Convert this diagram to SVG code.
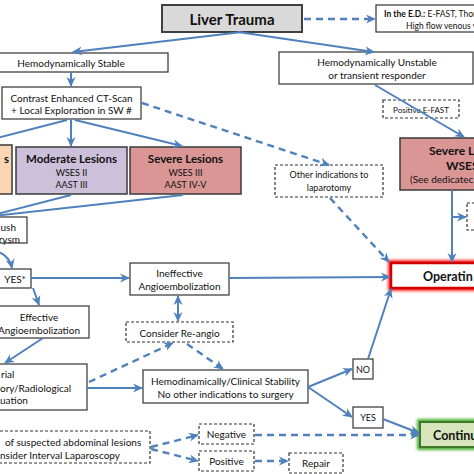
<svg xmlns="http://www.w3.org/2000/svg" width="474" height="474" viewBox="0 0 474 474">
<defs>
<marker id="ah" markerUnits="userSpaceOnUse" markerWidth="10" markerHeight="10" viewBox="0 0 10 10" refX="9" refY="5" orient="auto-start-reverse">
<path d="M0,0.5 L10,5 L0,9.5 L3,5 Z" fill="#4f81bd"/>
</marker>
<filter id="glow" x="-20%" y="-40%" width="140%" height="180%">
<feGaussianBlur stdDeviation="1.6"/>
</filter>
<style>
text{font-family:Lato,"Open Sans","Liberation Sans",sans-serif;fill:#111;dominant-baseline:central}
.m{text-anchor:middle}
.e{text-anchor:end}
.b{font-weight:bold}
.box{fill:#fff;stroke:#333;stroke-width:1.2}
.dbox{fill:#fff;stroke:#333;stroke-width:1.2;stroke-dasharray:3 2}
.les{stroke:#3a3a3a;stroke-width:1.5}
.c{fill:none;stroke:#4f81bd;stroke-width:2;marker-end:url(#ah)}
.d{fill:none;stroke:#4f81bd;stroke-width:2.4;stroke-dasharray:7 5;marker-end:url(#ah)}
.t10{font-size:10px}
.t9{font-size:9px}
.t8{font-size:8.5px}
</style>
</defs>
<rect width="474" height="474" fill="#fff"/>

<g id="liver-trauma">
<rect x="162" y="5" width="140" height="27" fill="#d9d9d9" stroke="#404040" stroke-width="2"/>
<text x="232" y="18.5" class="m b" font-size="15">Liver Trauma</text>
</g>
<g id="ed">
<rect x="376" y="5" width="110" height="27" class="box"/>
<text x="384" y="14" class="t8"><tspan class="b">In the E.D.:</tspan> E-FAST, Thor</text>
<text x="406" y="26" class="t8">High flow venous v</text>
</g>
<g id="stable">
<rect x="-26" y="53" width="194" height="19" class="box"/>
<text x="71" y="62.5" class="m t10">Hemodynamically Stable</text>
</g>
<g id="unstable">
<rect x="279" y="52" width="194" height="32" class="box"/>
<text x="377" y="62" class="m t10">Hemodynamically Unstable</text>
<text x="377" y="75" class="m t10">or transient responder</text>
</g>
<g id="ct">
<rect x="2" y="87" width="139" height="32" class="box"/>
<text x="71.5" y="98" class="m t10">Contrast Enhanced CT-Scan</text>
<text x="71.5" y="110" class="m t10">+ Local Exploration in SW #</text>
</g>
<g id="positive-efast">
<rect x="383" y="100" width="76" height="18" class="dbox"/>
<text x="421" y="109.5" class="m" font-size="8">Positive E-FAST</text>
</g>
<g id="mild">
<rect x="-40" y="145" width="52" height="49" fill="#fcd5b4" class="les"/>
<text x="9" y="158" class="e b" font-size="11.5">s</text>
</g>
<g id="moderate">
<rect x="16" y="147" width="111" height="47" fill="#ccc0da" class="les"/>
<text x="71.5" y="158" class="m b" font-size="11.5">Moderate Lesions</text>
<text x="71.5" y="172" class="m t9">WSES II</text>
<text x="71.5" y="184" class="m t9">AAST III</text>
</g>
<g id="severe">
<rect x="130" y="147" width="111" height="47" fill="#d99694" class="les"/>
<text x="185.5" y="158" class="m b" font-size="11.5">Severe Lesions</text>
<text x="185.5" y="172" class="m t9">WSES III</text>
<text x="185.5" y="184" class="m t9">AAST IV-V</text>
</g>
<g id="severe-unstable">
<rect x="400" y="138" width="80" height="52" fill="#d99694" class="les"/>
<text x="429" y="150" class="b" font-size="12">Severe Le</text>
<text x="446" y="165" class="b" font-size="12">WSES</text>
<text x="410" y="179" class="t10">(See dedicatec</text>
</g>
<g id="other-indications">
<rect x="275" y="165" width="108" height="32" class="dbox"/>
<text x="329" y="174.5" class="m" font-size="9">Other indications to</text>
<text x="329" y="187" class="m" font-size="9">laparotomy</text>
</g>
<g id="dedicated">
<rect x="467" y="203" width="20" height="27" class="dbox"/>
</g>
<g id="blush">
<rect x="-40" y="217" width="67" height="26" class="box"/>
<text x="16" y="226.5" class="e t10">ush</text>
<text x="20" y="239" class="e t10">rysm</text>
</g>
<g id="yes-star">
<rect x="-3" y="269" width="34" height="19" class="box"/>
<text x="15" y="279" class="m t10">YES*</text>
</g>
<g id="ineffective">
<rect x="130" y="263" width="99" height="32" class="box"/>
<text x="179.5" y="273" class="m t10">Ineffective</text>
<text x="179.5" y="286" class="m t10">Angioembolization</text>
</g>
<g id="operating">
<rect x="391" y="263" width="100" height="25" fill="none" stroke="#ff2020" stroke-width="6" filter="url(#glow)"/>
<rect x="391" y="263" width="100" height="25" fill="#fff" stroke="#d00000" stroke-width="2.5"/>
<text x="423" y="276" class="b" font-size="12.5">Operatin</text>
</g>
<g id="effective">
<rect x="-11" y="306" width="100" height="32" class="box"/>
<text x="39" y="317" class="m t10">Effective</text>
<text x="39" y="330" class="m t10">Angioembolization</text>
</g>
<g id="re-angio">
<rect x="126" y="322" width="107" height="20" class="dbox"/>
<text x="179.5" y="332.5" class="m t10">Consider Re-angio</text>
</g>
<g id="serial">
<rect x="-89" y="364" width="176" height="46" class="box"/>
<text x="1" y="373.5" class="t10">rial</text>
<text x="0" y="387.5" class="t10">ory/Radiological</text>
<text x="0" y="400" class="t10">uation</text>
</g>
<g id="stability">
<rect x="143" y="370" width="165" height="33" class="box"/>
<text x="225.5" y="381" class="m t10">Hemodinamically/Clinical Stability</text>
<text x="225.5" y="394" class="m t10">No other indications to surgery</text>
</g>
<g id="no">
<rect x="353" y="359" width="20" height="20" class="box"/>
<text x="363" y="369.5" class="m t9">NO</text>
</g>
<g id="yes">
<rect x="353" y="407" width="30" height="21" class="box"/>
<text x="368" y="417.5" class="m t9">YES</text>
</g>
<g id="continue">
<rect x="420" y="422" width="70" height="25" fill="none" stroke="#4caf30" stroke-width="6" filter="url(#glow)"/>
<rect x="420" y="422" width="70" height="25" fill="#d7e4bc" stroke="#3d7a28" stroke-width="2"/>
<text x="433" y="435" class="b" font-size="12.5">Continu</text>
</g>
<g id="interval">
<rect x="-20" y="431" width="170" height="32" class="dbox"/>
<text x="5" y="442" class="t10">of suspected abdominal lesions</text>
<text x="0" y="455" class="t10">nsider Interval Laparoscopy</text>
</g>
<g id="negative">
<rect x="199" y="424" width="55" height="20" class="dbox"/>
<text x="226.5" y="434" class="m t10">Negative</text>
</g>
<g id="positive">
<rect x="199" y="451" width="55" height="20" class="dbox"/>
<text x="226.5" y="461" class="m t10">Positive</text>
</g>
<g id="repair">
<rect x="289" y="453" width="54" height="20" class="dbox"/>
<text x="316" y="463" class="m t10">Repair</text>
</g>

<g id="connectors">
<path class="c" d="M242,32 L73,52"/>
<path class="c" d="M238,32 L374,52"/>
<path class="d" d="M304,19 L375,19"/>
<path class="c" d="M71,72 L71,86"/>
<path class="c" d="M67,120 L-30,145"/>
<path class="c" d="M71,120 L71,146"/>
<path class="c" d="M75,120 L182,146"/>
<path class="d" d="M142,103 L329,165"/>
<path class="c" d="M71,195 L-15,217"/>
<path class="c" d="M183,195 L-15,217"/>
<path class="c" d="M-5,251 Q9,254 12,268"/>
<path class="c" d="M31,278 L129,278"/>
<path class="c" d="M33,288 L39,305"/>
<path class="c" d="M229,278 L390,277"/>
<path class="c" d="M178,296 L178,321" marker-start="url(#ah)"/>
<path class="c" d="M43,338 L5,363"/>
<path class="d" d="M89,382 L173,343"/>
<path class="d" d="M187,344 L223,369"/>
<path class="c" d="M87,388 L142,388"/>
<path class="c" d="M308,387 L352,369"/>
<path class="c" d="M308,387 L352,417"/>
<path class="c" d="M368,359 L391,289"/>
<path class="c" d="M383,419 L419,433"/>
<path class="d" d="M255,435 L419,435"/>
<path class="d" d="M255,461 L288,461"/>
<path class="d" d="M151,447 L198,435"/>
<path class="d" d="M151,449 L198,461"/>
<path class="c" d="M375,85 L464,137"/>
<path class="d" d="M330,198 L389,262"/>
<path class="c" d="M452,190 L452,262"/>
<path class="c" d="M452,217 L466,217"/>
</g>
</svg>
